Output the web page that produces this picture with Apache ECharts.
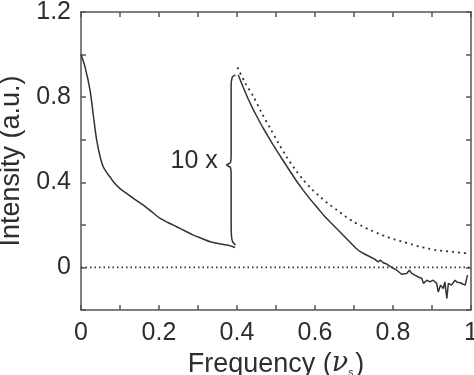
<!DOCTYPE html>
<html>
<head>
<meta charset="utf-8">
<script src="https://cdn.jsdelivr.net/npm/echarts@6/dist/echarts.min.js"></script>
<style>
html, body { margin: 0; padding: 0; background: #fff; }
#chart { width: 474px; height: 375px; }
</style>
</head>
<body>
<div id="chart"></div>
<script>
// lower-frequency part of the spectrum
var lowX = [0, 0.01, 0.023, 0.032, 0.04, 0.049, 0.057, 0.066, 0.074, 0.083, 0.1, 0.117, 0.138, 0.16, 0.181, 0.203, 0.224, 0.245, 0.267, 0.288, 0.31, 0.331, 0.352, 0.374, 0.395];
var lowY = [1.0, 0.944, 0.834, 0.709, 0.6, 0.52, 0.473, 0.445, 0.426, 0.403, 0.37, 0.348, 0.32, 0.293, 0.262, 0.23, 0.21, 0.191, 0.171, 0.152, 0.136, 0.121, 0.112, 0.105, 0.094];

// 10x magnified part
var highX = [0.403, 0.416, 0.429, 0.442, 0.455, 0.467, 0.48, 0.493, 0.506, 0.519, 0.536, 0.553, 0.57, 0.587, 0.604, 0.621, 0.638, 0.656, 0.673, 0.69, 0.705, 0.715, 0.728, 0.741, 0.752, 0.762, 0.768, 0.775, 0.784, 0.792, 0.801, 0.81, 0.822, 0.835, 0.842, 0.848, 0.856, 0.865, 0.874, 0.878, 0.887, 0.895, 0.903, 0.912, 0.916, 0.922, 0.929, 0.933, 0.938, 0.942, 0.95, 0.959, 0.965, 0.972, 0.979, 0.985, 0.991];
var highY = [0.905, 0.845, 0.79, 0.74, 0.695, 0.655, 0.615, 0.575, 0.537, 0.5, 0.452, 0.405, 0.362, 0.322, 0.285, 0.248, 0.215, 0.182, 0.15, 0.118, 0.09, 0.075, 0.062, 0.05, 0.04, 0.026, 0.034, 0.022, 0.016, 0.006, -0.004, -0.013, -0.032, -0.028, -0.013, -0.028, -0.036, -0.045, -0.052, -0.075, -0.06, -0.068, -0.06, -0.075, -0.115, -0.083, -0.099, -0.068, -0.146, -0.075, -0.083, -0.06, -0.07, -0.072, -0.078, -0.083, -0.036];

// dotted reference curve
var fitX = [0.401, 0.42, 0.442, 0.463, 0.485, 0.506, 0.527, 0.548, 0.57, 0.591, 0.613, 0.634, 0.656, 0.677, 0.698, 0.72, 0.741, 0.763, 0.784, 0.805, 0.826, 0.848, 0.869, 0.89, 0.912, 0.933, 0.955, 0.975, 0.993];
var fitY = [0.94, 0.87, 0.803, 0.727, 0.654, 0.585, 0.52, 0.463, 0.411, 0.369, 0.332, 0.299, 0.27, 0.241, 0.215, 0.195, 0.176, 0.159, 0.144, 0.131, 0.12, 0.108, 0.097, 0.089, 0.081, 0.077, 0.073, 0.069, 0.066];

// curly brace next to "10 x"
var braceX = [0.396, 0.389, 0.386, 0.385, 0.385, 0.383, 0.373, 0.383, 0.385, 0.385, 0.386, 0.389, 0.396];
var braceY = [0.105, 0.12, 0.144, 0.2, 0.43, 0.47, 0.481, 0.492, 0.53, 0.85, 0.88, 0.897, 0.905];

var zeroX = [0, 1];
var zeroY = [0, 0];

var xTicks = [0, 0.2, 0.4, 0.6, 0.8, 1];
var yTicks = [0, 0.4, 0.8, 1.2];

function pairs(xs, ys) {
    return xs.map(function (x, i) { return [x, ys[i]]; });
}

var txt = '#2e2e2e';
var axisCol = '#555';
var font = 'Liberation Sans';

var chart = echarts.init(document.getElementById('chart'));

function boxAxis(extra) {
    var a = {
        type: 'value',
        splitLine: { show: false },
        axisLine: { onZero: false, lineStyle: { color: axisCol, width: 1.5 } },
        axisTick: { inside: true, length: 5, lineStyle: { color: axisCol, width: 1.5 } }
    };
    for (var k in extra) a[k] = extra[k];
    return a;
}

option = {
    animation: false,
    grid: { left: 81, right: 3, top: 12, bottom: 65, outerBoundsMode: 'none' },
    xAxis: [boxAxis({
        min: 0, max: 1, interval: 0.1,
        axisLabel: {
            color: txt, fontSize: 25, fontFamily: font, margin: 11,
            formatter: function (v) {
                var r = Math.round(v * 10) / 10;
                return xTicks.indexOf(r) >= 0 ? String(r) : '';
            }
        },
        name: '{n|Frequency (}{v|ν}{s|s}{n|)}',
        nameLocation: 'middle',
        nameGap: 26,
        nameTextStyle: {
            rich: {
                n: { fontSize: 27, color: txt, fontFamily: font },
                v: { fontSize: 27, color: txt, fontFamily: 'DejaVu Serif', fontStyle: 'italic' },
                s: { fontSize: 10, color: txt, fontFamily: font, verticalAlign: 'bottom', padding: [14, 2, 0, 0] }
            }
        }
    }), boxAxis({
        position: 'top', min: 0, max: 1, interval: 0.1,
        axisLabel: { show: false }
    })],
    yAxis: [boxAxis({
        min: -0.2, max: 1.2, interval: 0.2,
        axisLabel: {
            color: txt, fontSize: 25, fontFamily: font, margin: 10,
            formatter: function (v) {
                var r = Math.round(v * 10) / 10;
                return yTicks.indexOf(r) >= 0 ? String(r) : '';
            }
        },
        name: 'Intensity (a.u.)',
        nameLocation: 'middle',
        nameGap: 53,
        nameTextStyle: { color: txt, fontSize: 27, fontFamily: font }
    }), boxAxis({
        position: 'right', min: -0.2, max: 1.2, interval: 0.2,
        axisLabel: { show: false }
    })],
    series: [{
        type: 'line',
        data: pairs(zeroX, zeroY),
        symbol: 'none',
        lineStyle: { color: '#333', width: 1.8, type: [1.5, 3] }
    }, {
        type: 'line',
        data: pairs(lowX, lowY),
        symbol: 'none',
        smooth: 0.3,
        lineStyle: { color: '#333', width: 1.5 }
    }, {
        type: 'line',
        data: pairs(highX, highY),
        symbol: 'none',
        lineStyle: { color: '#333', width: 1.5 }
    }, {
        type: 'line',
        data: pairs(fitX, fitY),
        symbol: 'none',
        smooth: 0.3,
        lineStyle: { color: '#333', width: 1.8, type: [2, 4] }
    }, {
        type: 'line',
        data: pairs(braceX, braceY),
        symbol: 'none',
        smooth: 0.2,
        lineStyle: { color: '#333', width: 1.5 }
    }, {
        type: 'scatter',
        data: [[0.29, 0.5]],
        symbolSize: 0,
        label: {
            show: true,
            position: 'inside',
            formatter: '10 x',
            color: '#2e2e2e',
            opacity: 1,
            textBorderWidth: 0,
            fontSize: 25,
            fontFamily: font
        },
        itemStyle: { opacity: 1 }
    }]
};

chart.setOption(option);
</script>
</body>
</html>
